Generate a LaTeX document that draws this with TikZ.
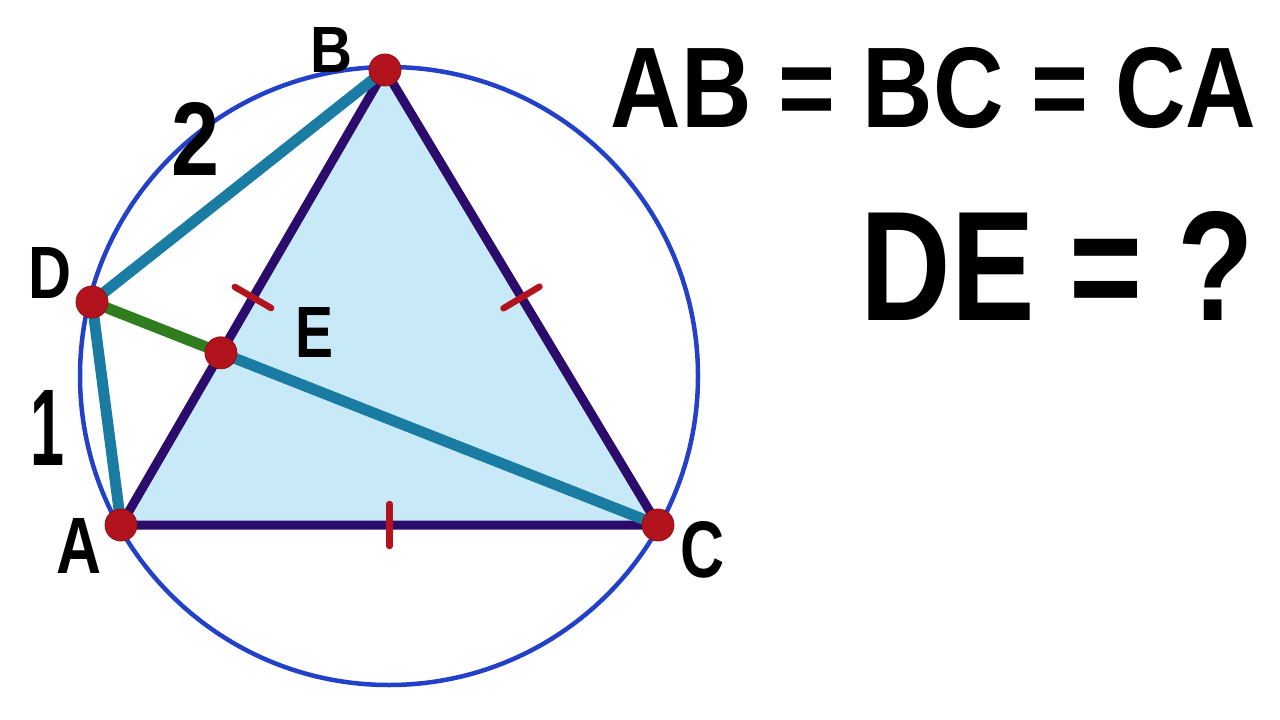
\documentclass[tikz,border=0pt]{standalone}
\usepackage{fontspec}
\setmainfont{Liberation Sans}
\usepackage{graphicx}
\usetikzlibrary{calc}
\definecolor{trifill}{HTML}{C8EAF8}
\definecolor{triedge}{HTML}{2B0B6B}
\definecolor{segblue}{HTML}{1A7BA3}
\definecolor{seggreen}{HTML}{2F7D1F}
\definecolor{dotred}{HTML}{B3131C}
\definecolor{circblue}{HTML}{2340C8}
\newcommand\fitbox[3]{\resizebox{#1pt}{#2pt}{\bfseries #3}}
\begin{document}
\begin{tikzpicture}[x=1pt,y=-1pt,
  circline/.style={draw=circblue,line width=4.5pt},
  edgeline/.style={draw=triedge,line width=9pt,line join=round},
  segline/.style={draw=segblue,line width=11pt},
  greenline/.style={draw=seggreen,line width=11pt},
  tickmark/.style={draw=dotred,line width=6.5pt,line cap=round},
  dot/.style={circle,fill=dotred,draw=dotred!80!black,line width=0.8pt,minimum size=32pt,inner sep=0pt},
  lbl/.style={inner sep=0pt,text=black}]
\useasboundingbox (0,0) rectangle (1280,720);
\coordinate (O) at (389,376);
\coordinate (A) at (121,525);
\coordinate (B) at (385,70);
\coordinate (C) at (658,525);
\coordinate (D) at (92,302);
\path (intersection of D--C and A--B) coordinate (E);
% circle
\draw[circline] (O) circle[radius=309pt];
% triangle
\fill[trifill] (A) -- (B) -- (C) -- cycle;
\draw[edgeline] (A) -- (B) -- (C) -- cycle;
% segments
\draw[segline] (D) -- (B);
\draw[segline] (D) -- (A);
\draw[segline] (E) -- (C);
\draw[greenline] (D) -- (E);
% ticks
\draw[tickmark] ($(A)!0.5!(B)!21pt!90:(B)$) -- ($(A)!0.5!(B)!21pt!-90:(B)$);
\draw[tickmark] ($(B)!0.5!(C)!21pt!90:(C)$) -- ($(B)!0.5!(C)!21pt!-90:(C)$);
\draw[tickmark] ($(A)!0.5!(C)!21pt!90:(C)$) -- ($(A)!0.5!(C)!21pt!-90:(C)$);
% dots
\node[dot] (dA) at (A) {};
\node[dot] (dB) at (B) {};
\node[dot] (dC) at (C) {};
\node[dot] (dD) at (D) {};
\node[dot] (dE) at (E) {};
% labels
\node[lbl] (lB) at (332,50) {\fitbox{42}{45}{B}};
\node[lbl] (lD) at (50,273) {\fitbox{43}{51}{D}};
\node[lbl] (lE) at (315,332) {\fitbox{38}{50}{E}};
\node[lbl] (lA) at (79,546) {\fitbox{45}{55}{A}};
\node[lbl] (lC) at (703,550) {\fitbox{44}{56}{C}};
\node[lbl] (l2) at (196,139) {\fitbox{48}{73}{2}};
\node[lbl] (l1) at (48,428) {\fitbox{34}{75}{1}};
% titles
\node[lbl] (t1) at (933.5,88) {\fitbox{645}{80}{AB = BC = CA}};
\node[lbl] (t2) at (1057.5,266) {\fitbox{393}{109}{DE = ?}};
\end{tikzpicture}
\end{document}
